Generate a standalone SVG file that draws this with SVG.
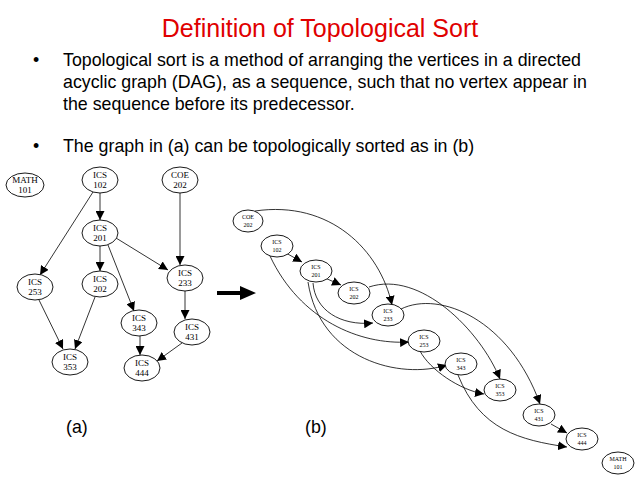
<svg xmlns="http://www.w3.org/2000/svg" width="638" height="478" viewBox="0 0 638 478">
<style>
.t{font-family:"Liberation Sans",Arial,sans-serif;font-size:17.8px;fill:#000}
.n ellipse{fill:#fff;stroke:#000;stroke-width:0.9}
.n text{font-family:"Liberation Serif","Times New Roman",serif;font-size:9px;text-anchor:middle;fill:#000}
.s text{font-size:6px}
.e path{fill:none;stroke:#000;stroke-width:0.8;marker-end:url(#a)}
</style>
<defs><marker id="a" viewBox="0 0 10 10" refX="10" refY="5" markerWidth="9" markerHeight="9" markerUnits="userSpaceOnUse" orient="auto"><path d="M0,0L10,5L0,10z"/></marker></defs>
<rect width="638" height="478" fill="#fff"/>
<text x="320" y="37" text-anchor="middle" style="font-family:'Liberation Sans',Arial,sans-serif;font-size:25px;fill:#e00000">Definition of Topological Sort</text>
<text class="t" x="33" y="66">•</text>
<text class="t" x="63" y="66">Topological sort is a method of arranging the vertices in a directed</text>
<text class="t" x="63" y="88">acyclic graph (DAG), as a sequence, such that no vertex appear in</text>
<text class="t" x="63" y="110">the sequence before its predecessor.</text>
<text class="t" x="33" y="152">•</text>
<text class="t" x="63" y="152">The graph in (a) can be topologically sorted as in (b)</text>
<text class="t" x="66" y="433">(a)</text>
<text class="t" x="305" y="433">(b)</text>
<g id="bigarrow"><path d="M217,291H240V286L256,293L240,300V295H217z" fill="#000"/></g>
<g class="e" id="edges-a">
<path d="M100,193V220"/><path d="M93,192L40,275"/><path d="M100,246V271"/><path d="M108,245L134,311"/><path d="M116,238L168,270"/><path d="M180,193V265"/><path d="M185,291V319"/><path d="M39,300L63,349"/><path d="M95,297L75,349"/><path d="M140,336V355"/><path d="M182,343L157,361"/>
</g>
<g class="e" id="edges-b">
<path d="M255,211C330,200 380,250 392,305"/><path d="M286,253L302,262"/><path d="M325,278L341,285"/><path d="M270,256C300,320 360,345 409,342"/><path d="M313,283C315,310 340,326 373,323"/><path d="M308,282C320,360 400,380 447,365"/><path d="M369,287C420,270 480,330 500,379"/><path d="M401,309C440,290 510,320 540,404"/><path d="M420,351C430,370 460,390 484,394"/><path d="M458,375C480,430 520,440 567,447"/><path d="M551,424L567,433"/>
</g>
<g class="n" id="a-math101"><ellipse cx="25" cy="185" rx="19" ry="12"/><text x="25" y="183">MATH</text><text x="25" y="193">101</text></g>
<g class="n" id="a-ics102"><ellipse cx="100" cy="180" rx="18" ry="13"/><text x="100" y="178">ICS</text><text x="100" y="188">102</text></g>
<g class="n" id="a-coe202"><ellipse cx="180" cy="180" rx="18" ry="13"/><text x="180" y="178">COE</text><text x="180" y="188">202</text></g>
<g class="n" id="a-ics201"><ellipse cx="100" cy="233" rx="18" ry="13"/><text x="100" y="231">ICS</text><text x="100" y="241">201</text></g>
<g class="n" id="a-ics253"><ellipse cx="35" cy="287" rx="18" ry="13"/><text x="35" y="285">ICS</text><text x="35" y="295">253</text></g>
<g class="n" id="a-ics202"><ellipse cx="100" cy="284" rx="18" ry="13"/><text x="100" y="282">ICS</text><text x="100" y="292">202</text></g>
<g class="n" id="a-ics233"><ellipse cx="185" cy="278" rx="18" ry="13"/><text x="185" y="276">ICS</text><text x="185" y="286">233</text></g>
<g class="n" id="a-ics343"><ellipse cx="139" cy="323" rx="18" ry="13"/><text x="139" y="321">ICS</text><text x="139" y="331">343</text></g>
<g class="n" id="a-ics431"><ellipse cx="192" cy="332" rx="18" ry="13"/><text x="192" y="330">ICS</text><text x="192" y="340">431</text></g>
<g class="n" id="a-ics353"><ellipse cx="70" cy="362" rx="18" ry="13"/><text x="70" y="360">ICS</text><text x="70" y="370">353</text></g>
<g class="n" id="a-ics444"><ellipse cx="142" cy="368" rx="18" ry="13"/><text x="142" y="366">ICS</text><text x="142" y="376">444</text></g>
<g class="n s" id="b-coe202"><ellipse cx="248" cy="221" rx="15" ry="11"/><text x="248" y="219">COE</text><text x="248" y="227">202</text></g>
<g class="n s" id="b-ics102"><ellipse cx="277" cy="246" rx="16" ry="11"/><text x="277" y="244">ICS</text><text x="277" y="252">102</text></g>
<g class="n s" id="b-ics201"><ellipse cx="316" cy="271" rx="16" ry="11"/><text x="316" y="269">ICS</text><text x="316" y="277">201</text></g>
<g class="n s" id="b-ics202"><ellipse cx="354" cy="293" rx="16" ry="11"/><text x="354" y="291">ICS</text><text x="354" y="299">202</text></g>
<g class="n s" id="b-ics233"><ellipse cx="388" cy="315" rx="16" ry="11"/><text x="388" y="313">ICS</text><text x="388" y="321">233</text></g>
<g class="n s" id="b-ics253"><ellipse cx="424" cy="341" rx="16" ry="11"/><text x="424" y="339">ICS</text><text x="424" y="347">253</text></g>
<g class="n s" id="b-ics343"><ellipse cx="461" cy="364" rx="16" ry="11"/><text x="461" y="362">ICS</text><text x="461" y="370">343</text></g>
<g class="n s" id="b-ics353"><ellipse cx="500" cy="390" rx="16" ry="11"/><text x="500" y="388">ICS</text><text x="500" y="396">353</text></g>
<g class="n s" id="b-ics431"><ellipse cx="539" cy="415" rx="16" ry="11"/><text x="539" y="413">ICS</text><text x="539" y="421">431</text></g>
<g class="n s" id="b-ics444"><ellipse cx="582" cy="439" rx="16" ry="11"/><text x="582" y="437">ICS</text><text x="582" y="445">444</text></g>
<g class="n s" id="b-math101"><ellipse cx="618" cy="463" rx="16" ry="11"/><text x="618" y="461">MATH</text><text x="618" y="469">101</text></g>
</svg>
